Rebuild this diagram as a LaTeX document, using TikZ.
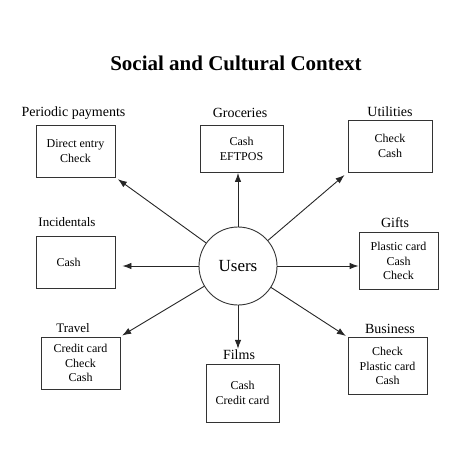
\documentclass[tikz,border=0pt]{standalone}
\usepackage{fontspec}
\setmainfont{Liberation Serif}
\usetikzlibrary{arrows.meta}
\begin{document}
\begin{tikzpicture}[
  x=1pt, y=-1pt,
  box/.style={draw=black!80, line width=0.9pt, align=center, inner sep=0pt, font=\fontsize{12}{14.5}\selectfont},
  cat/.style={font=\fontsize{14}{16}\selectfont, inner sep=1pt},
  arrow/.style={-{Latex[length=9pt,width=6.5pt]}, line width=0.9pt, black!85}
]
\useasboundingbox (0,0) rectangle (474,474);
\node[font=\fontsize{21}{24}\selectfont\bfseries] (title) at (236,63) {Social and Cultural Context};
\node[circle, draw=black!80, line width=0.9pt, minimum size=78pt, inner sep=0pt, font=\fontsize{17}{20}\selectfont] (users) at (238,266) {Users};
% category boxes
\node[box, minimum width=79pt, minimum height=52pt] (periodic) at (75.5,151) {Direct entry\\Check};
\node[box, minimum width=83pt, minimum height=47pt] (groceries) at (241.5,149) {Cash\\EFTPOS};
\node[box, minimum width=84pt, minimum height=52pt] (utilities) at (390,146) {Check\\Cash};
\node[box, minimum width=79pt, minimum height=52pt] (incidentals) at (75.5,262) {Cash\hspace{14pt}};
\node[box, minimum width=79pt, minimum height=57pt] (gifts) at (398.5,261) {Plastic card\\Cash\\Check};
\node[box, minimum width=79pt, minimum height=52pt] (travel) at (80.5,363) {Credit card\\Check\\Cash};
\node[box, minimum width=73pt, minimum height=58pt] (films) at (242.5,393) {Cash\\Credit card};
\node[box, minimum width=79pt, minimum height=57pt] (business) at (387.5,366) {Check\\Plastic card\\Cash};
% category labels
\node[cat] (periodic label) at (73.5,113) {Periodic payments};
\node[cat] (groceries label) at (240,113) {Groceries};
\node[cat] (utilities label) at (390,112) {Utilities};
\node[cat, font=\fontsize{13}{15}\selectfont] (incidentals label) at (67,222) {Incidentals};
\node[cat] (gifts label) at (395,223) {Gifts};
\node[cat, font=\fontsize{13}{15}\selectfont] (travel label) at (73,328) {Travel};
\node[cat] (films label) at (239,355) {Films};
\node[cat] (business label) at (390,329) {Business};
% connectors
\draw[arrow, shorten >=3pt] (users) -- (periodic.south east);
\draw[arrow] (users.north) -- (users.north |- groceries.south);
\draw[arrow, shorten >=4pt] (users) -- (utilities.south west);
\draw[arrow, shorten >=7pt] (users.west) -- (users.west -| incidentals.east);
\draw[arrow] (users.east) -- (users.east -| gifts.west);
\draw[arrow, shorten >=2pt] (users) -- (travel.north east);
\draw[arrow] (users.south) -- (users.south |- films label.north);
\draw[arrow, shorten >=2pt] (users) -- (business.north west);
\end{tikzpicture}
\end{document}
